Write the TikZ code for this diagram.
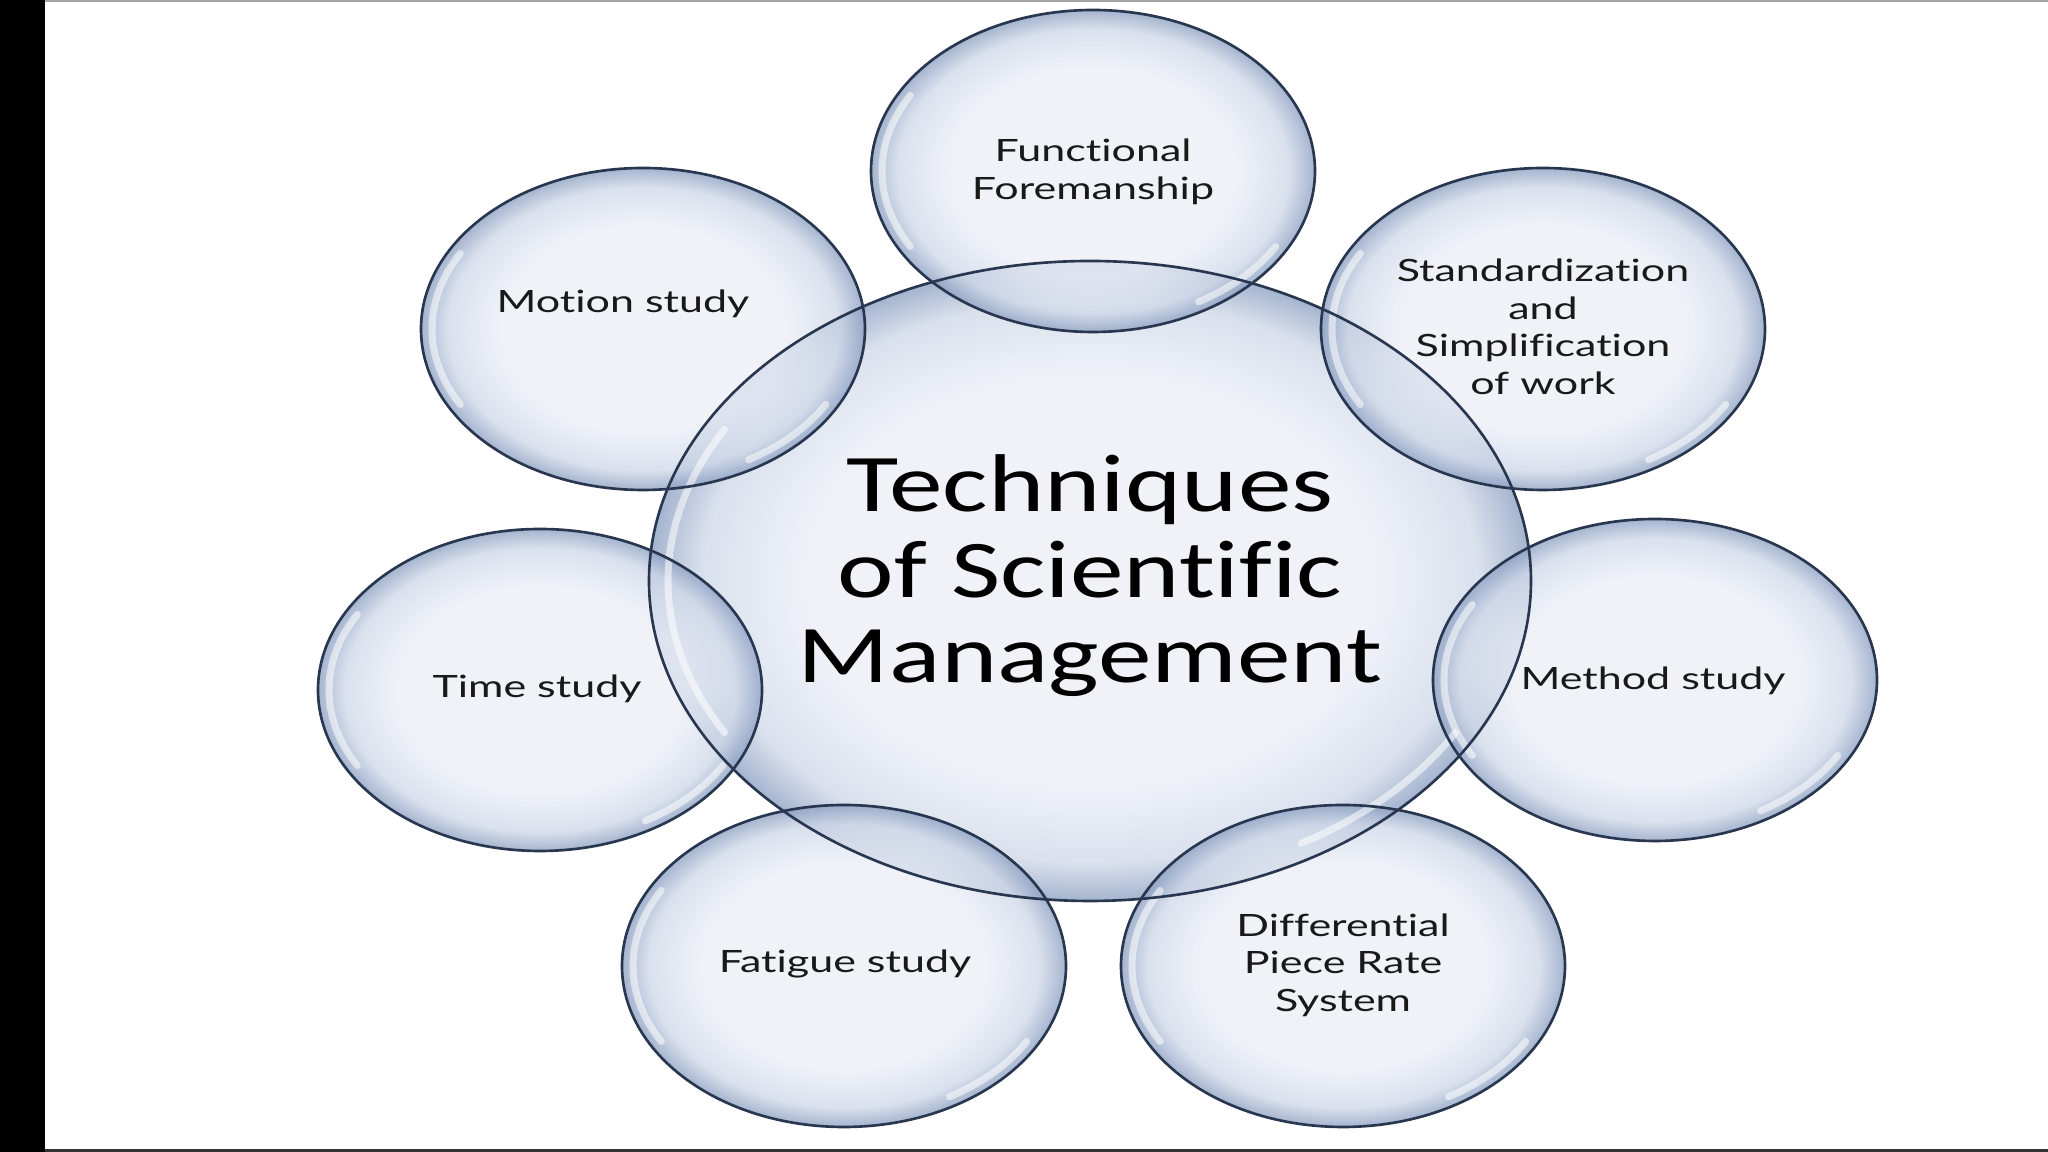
\documentclass[tikz,border=0pt]{standalone}
\usepackage{fontspec}
\newfontfamily\hubfont[FakeStretch=1.31, Ligatures=NoCommon]{Carlito}
\newfontfamily\satfont[FakeStretch=1.4, Ligatures=NoCommon]{Lato}
\usetikzlibrary{shapes}

\definecolor{bubin}{RGB}{236,239,247}
\definecolor{bubmid}{RGB}{208,217,233}
\definecolor{bubrim}{RGB}{140,160,194}
\definecolor{bubline}{RGB}{40,54,80}

\pgfdeclareradialshading{bubble}{\pgfpoint{0bp}{0bp}}{color(0bp)=(bubin); color(16bp)=(bubin); color(22bp)=(bubmid); color(25bp)=(bubrim); color(50bp)=(bubrim)}

\tikzset{
  bubblefill/.style={shading=bubble, fill opacity=0.78},
  bubbleline/.style={draw=bubline, line width=0.75pt},
  shine/.style={white, line width=2pt, line cap=round, opacity=0.55},
  hubtext/.style={align=center, inner sep=0pt, font=\hubfont\fontsize{23.3}{24.3}\selectfont},
  sattext/.style={align=center, inner sep=0pt, text=black!90, font=\satfont\fontsize{8.74}{10.67}\selectfont}
}

\begin{document}
\begin{tikzpicture}
\useasboundingbox (0,0) rectangle (20.48,11.52);
\fill [white] (0,0) rectangle (20.48,11.52);
% screen frame
\fill [black] (0,0) rectangle (0.45,11.52);
\fill [black!80] (0.45,0) rectangle (20.48,0.03);
\fill [black!35] (0.45,11.50) rectangle (20.48,11.52);
% bubbles
\shade [bubblefill] (10.90,5.71) ellipse (4.41 and 3.20);
\foreach \x/\y in {10.93/9.81, 15.43/8.23, 16.55/4.72, 13.43/1.86, 8.44/1.86, 5.40/4.62, 6.43/8.23} {
    \shade [bubblefill] (\x,\y) ellipse (2.22 and 1.61);
}
% shine on the rims
\draw [shine] (10.90,5.71) ++(150:4.22 and 3.03) arc[start angle=150, end angle=210, x radius=4.22, y radius=3.03];
\draw [shine] (10.90,5.71) ++(300:4.22 and 3.03) arc[start angle=300, end angle=330, x radius=4.22, y radius=3.03];
\foreach \x/\y in {10.93/9.81, 15.43/8.23, 16.55/4.72, 13.43/1.86, 8.44/1.86, 5.40/4.62, 6.43/8.23} {
    \draw [shine] (\x,\y) ++(150:2.11 and 1.51) arc[start angle=150, end angle=210, x radius=2.11, y radius=1.51];
    \draw [shine] (\x,\y) ++(300:2.11 and 1.51) arc[start angle=300, end angle=330, x radius=2.11, y radius=1.51];
}
% outlines on top
\draw [bubbleline] (10.90,5.71) ellipse (4.41 and 3.20);
\foreach \x/\y in {10.93/9.81, 15.43/8.23, 16.55/4.72, 13.43/1.86, 8.44/1.86, 5.40/4.62, 6.43/8.23} {
    \draw [bubbleline] (\x,\y) ellipse (2.22 and 1.61);
}
% labels
\node [hubtext] (hub) at (10.90,5.76) {Techniques\\of Scientific\\Management};
\node [sattext] (func) at (10.93,9.80) {Functional\\Foremanship};
\node [sattext] (stand) at (15.43,8.25) {Standardization\\and\\Simplification\\of work};
\node [sattext] (method) at (16.53,4.71) {Method study};
\node [sattext] (diff) at (13.43,1.87) {Differential\\Piece Rate\\System};
\node [sattext] (fatigue) at (8.45,1.88) {Fatigue study};
\node [sattext] (time) at (5.37,4.63) {Time study};
\node [sattext] (motion) at (6.23,8.48) {Motion study};
\end{tikzpicture}
\end{document}
